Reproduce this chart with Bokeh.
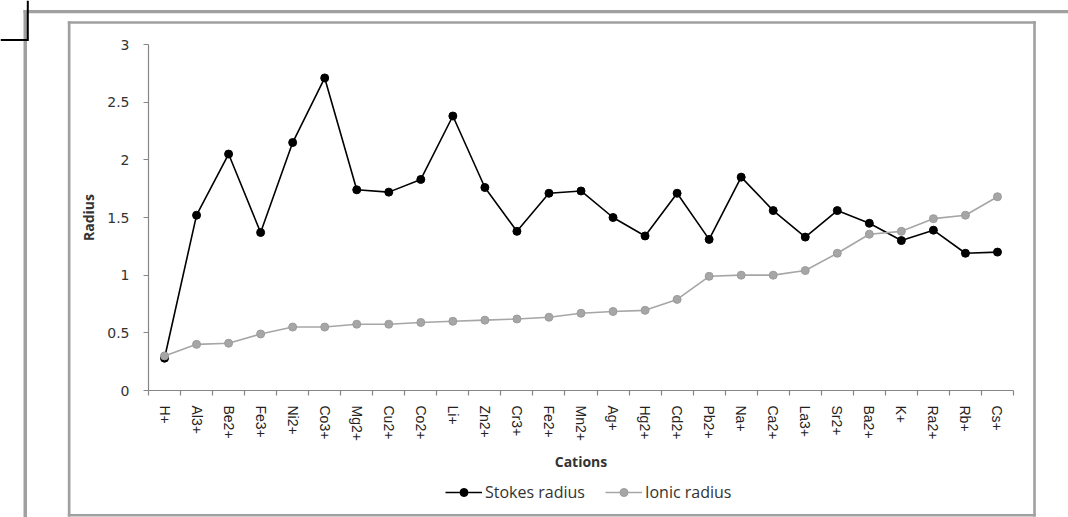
from bokeh.plotting import figure
from bokeh.models import (FixedTicker, NumeralTickFormatter, CustomJSTickFormatter,
                          BoxAnnotation, Legend, LegendItem, Range1d)
from bokeh.embed import file_html
from bokeh.resources import INLINE

cations = ["H+", "Al3+", "Be2+", "Fe3+", "Ni2+", "Co3+", "Mg2+", "Cu2+", "Co2+", "Li+",
           "Zn2+", "Cr3+", "Fe2+", "Mn2+", "Ag+", "Hg2+", "Cd2+", "Pb2+", "Na+", "Ca2+",
           "La3+", "Sr2+", "Ba2+", "K+", "Ra2+", "Rb+", "Cs+"]
stokes_radius = [0.28, 1.52, 2.05, 1.37, 2.15, 2.71, 1.74, 1.72, 1.83, 2.38,
                 1.76, 1.38, 1.71, 1.73, 1.50, 1.34, 1.71, 1.31, 1.85, 1.56,
                 1.33, 1.56, 1.45, 1.30, 1.39, 1.19, 1.20]
ionic_radius = [0.30, 0.40, 0.41, 0.49, 0.55, 0.55, 0.575, 0.575, 0.59, 0.60,
                0.61, 0.62, 0.635, 0.67, 0.685, 0.695, 0.79, 0.99, 1.00, 1.00,
                1.04, 1.19, 1.355, 1.38, 1.49, 1.52, 1.68]
y_ticks = [0, 0.5, 1, 1.5, 2, 2.5, 3]
Y_MAX = 3

# layout (canvas pixels)
W, H = 1068, 517
FL, FR, FT, FB = 148, 1013, 44, 390   # plot area: left, right, top(y=3), bottom(y=0)

n = len(cations)
x_pos = [i + 0.5 for i in range(n)]

# ranges chosen so the whole canvas is the frame and the plot area lands at FL..FR, FT..FB
px_x = (FR - FL) / n
px_y = (FB - FT) / Y_MAX
x_range = Range1d(-FL / px_x, n + (W - FR) / px_x)
y_range = Range1d(-(H - FB) / px_y, Y_MAX + FT / px_y)

p = figure(width=W, height=H, output_backend="svg", toolbar_location=None,
           x_range=x_range, y_range=y_range,
           min_border=0, min_border_left=0, min_border_right=0,
           min_border_top=0, min_border_bottom=0)
p.outline_line_color = None
p.xgrid.grid_line_color = None
p.ygrid.grid_line_color = None
p.background_fill_color = "white"
p.border_fill_color = "white"

AX = "#868686"
# x axis
xa = p.xaxis[0]
xa.fixed_location = 0
xa.bounds = (0, n)
xa.ticker = FixedTicker(ticks=x_pos, minor_ticks=list(range(n + 1)))
xa.formatter = CustomJSTickFormatter(args=dict(names=cations),
                                     code="return names[Math.round(tick - 0.5)] || '';")
xa.axis_line_color = AX
xa.axis_line_width = 1.2
xa.major_tick_out = 0
xa.major_tick_in = 0
xa.minor_tick_out = 5
xa.minor_tick_in = 0
xa.minor_tick_line_color = AX
xa.minor_tick_line_width = 1.2
xa.major_label_orientation = "vertical"
xa.major_label_standoff = 10
xa.major_label_text_font = "Liberation Sans"
xa.major_label_text_font_size = "14px"
xa.major_label_text_color = "#222222"
xa.axis_label = "Cations"
xa.axis_label_text_font = "Open Sans"
xa.axis_label_text_font_style = "bold"
xa.axis_label_text_font_size = "14px"
xa.axis_label_text_color = "#333333"
xa.axis_label_standoff = 8

# y axis
ya = p.yaxis[0]
ya.fixed_location = 0
ya.bounds = (0, Y_MAX)
ya.ticker = FixedTicker(ticks=y_ticks)
ya.formatter = NumeralTickFormatter(format="0.[0]")
ya.axis_line_color = AX
ya.axis_line_width = 1.2
ya.major_tick_line_color = AX
ya.major_tick_line_width = 1.2
ya.major_tick_out = 5
ya.major_tick_in = 0
ya.minor_tick_line_color = None
ya.major_label_standoff = 14
ya.major_label_text_font = "DejaVu Sans"
ya.major_label_text_font_size = "14px"
ya.major_label_text_color = "#333333"
ya.axis_label = "Radius"
ya.axis_label_text_font = "Open Sans"
ya.axis_label_text_font_style = "bold"
ya.axis_label_text_font_size = "14px"
ya.axis_label_text_color = "#333333"
ya.axis_label_standoff = 6

# series
GRAY = "#a6a6a6"
s_line = p.line(x_pos, stokes_radius, line_color="black", line_width=1.6)
s_pts = p.scatter(x_pos, stokes_radius, marker="circle", size=8,
                  fill_color="black", line_color="black")
i_line = p.line(x_pos, ionic_radius, line_color=GRAY, line_width=1.6)
i_pts = p.scatter(x_pos, ionic_radius, marker="circle", size=8,
                  fill_color=GRAY, line_color="#9c9c9c")

legend = Legend(items=[LegendItem(label="Stokes radius", renderers=[s_line, s_pts]),
                       LegendItem(label="Ionic radius", renderers=[i_line, i_pts])],
                orientation="horizontal", location=(445, H - 503),
                padding=0, margin=0, spacing=20, label_standoff=3,
                glyph_width=37, glyph_height=20, label_height=20,
                border_line_color=None, background_fill_alpha=0,
                label_text_font="Open Sans", label_text_font_size="16px",
                label_text_color="#333333")
p.add_layout(legend, "center")

# page frame decorations (canvas pixels)
def bar(l, r, t, b, color):
    p.add_layout(BoxAnnotation(left=l, right=r, top=t, bottom=b,
                               left_units="canvas", right_units="canvas",
                               top_units="canvas", bottom_units="canvas",
                               fill_color=color, fill_alpha=1.0, line_color=None,
                               level="overlay"))

FR_COL = "#a0a0a0"
bar(23, 1068, 9.5, 12.7, FR_COL)
bar(23, 26.5, 9.5, 517, FR_COL)
bar(67.3, 1035.3, 20.7, 23.3, FR_COL)
bar(67.3, 1035.3, 513.4, 516, FR_COL)
bar(67.3, 70, 20.7, 516, FR_COL)
bar(1032.7, 1035.3, 20.7, 516, FR_COL)
bar(26.3, 28.3, 0, 40.5, "black")
bar(0, 27, 38.5, 40.5, "black")

open("out.html", "w").write(file_html(p, INLINE))
